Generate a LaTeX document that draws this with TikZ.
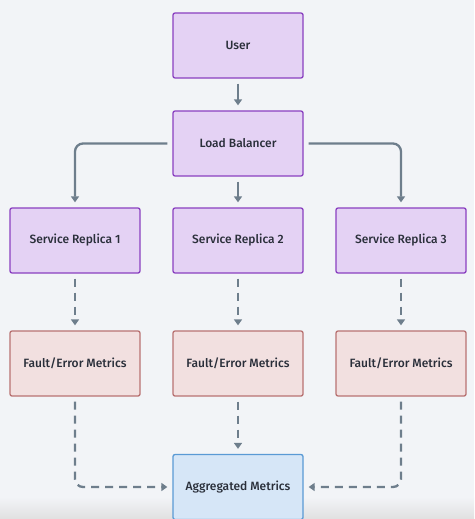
\documentclass[tikz,border=0pt]{standalone}
\usepackage{fontspec}
\setmainfont{Fira Sans}[UprightFont=* Medium]
\usetikzlibrary{arrows.meta,shadings}
\definecolor{bg}{HTML}{F2F4F7}
\definecolor{pfill}{HTML}{E4D2F4}
\definecolor{pdraw}{HTML}{8A40C0}
\definecolor{rfill}{HTML}{F2E0E0}
\definecolor{rdraw}{HTML}{B87272}
\definecolor{bfill}{HTML}{D6E6F7}
\definecolor{bdraw}{HTML}{5A9AD5}
\definecolor{arr}{HTML}{6E7E8C}
\definecolor{txt}{HTML}{2A2F3A}
\tikzset{
  box/.style={rectangle, rounded corners=2pt, minimum width=130pt, minimum height=65pt,
    line width=1.3pt, font=\fontsize{12}{14}\selectfont, text=txt, inner sep=0pt},
  pbox/.style={box, fill=pfill, draw=pdraw},
  rbox/.style={box, fill=rfill, draw=rdraw},
  bbox/.style={box, fill=bfill, draw=bdraw},
  conn/.style={draw=arr, line width=2.3pt, rounded corners=8pt,
    -{Triangle[length=6pt,width=8pt]}, shorten >=5pt, shorten <=5pt},
  dconn/.style={conn, dash pattern=on 8pt off 6pt},
}
\begin{document}
\begin{tikzpicture}[x=1pt,y=-1pt]
\useasboundingbox (0,0) rectangle (474,519);
\fill[bg] (0,0) rectangle (474,519);
\shade[top color=bg, bottom color=black!12] (0,497) rectangle (474,519);
\node[pbox] (user) at (238,45.5) {User};
\node[pbox] (lb) at (238,143.5) {Load Balancer};
\node[pbox] (s1) at (75,240.5) {Service Replica 1};
\node[pbox] (s2) at (238,240.5) {Service Replica 2};
\node[pbox] (s3) at (401,240.5) {Service Replica 3};
\node[rbox] (f1) at (75,363.5) {Fault/Error Metrics};
\node[rbox] (f2) at (238,363.5) {Fault/Error Metrics};
\node[rbox] (f3) at (401,363.5) {Fault/Error Metrics};
\node[bbox] (agg) at (238,487) {Aggregated Metrics};
\draw[conn] (user) -- (lb);
\draw[conn] (lb) -- (s2);
\draw[conn] (lb.west) -| (s1.north);
\draw[conn] (lb.east) -| (s3.north);
\draw[dconn] (s1) -- (f1);
\draw[dconn] (s2) -- (f2);
\draw[dconn] (s3) -- (f3);
\draw[dconn] (f2) -- (agg);
\draw[dconn] (f1.south) |- (agg.west);
\draw[dconn] (f3.south) |- (agg.east);
\end{tikzpicture}
\end{document}
